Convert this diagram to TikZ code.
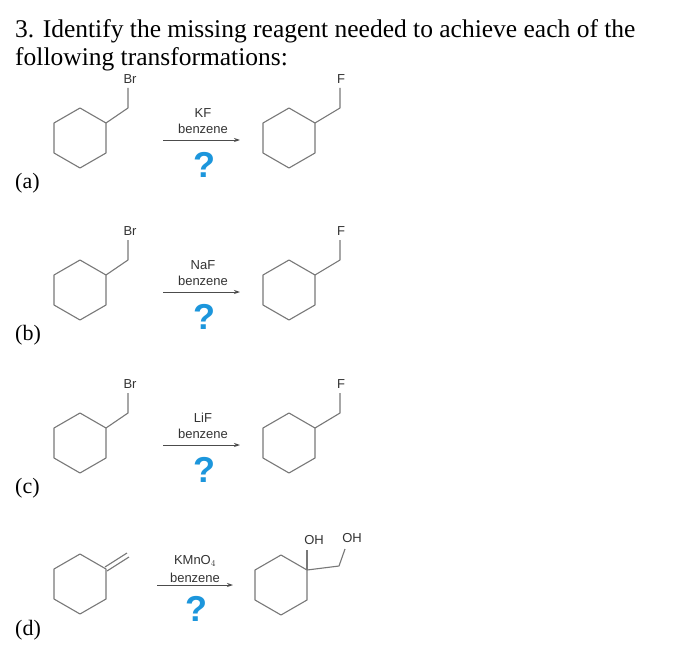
\documentclass[tikz,border=0pt]{standalone}
\usepackage{fontspec}
\usetikzlibrary{arrows.meta}
\setmainfont{Liberation Serif}
\newfontfamily\lsans{Liberation Sans}
\definecolor{qblue}{RGB}{28,150,220}
\definecolor{bond}{RGB}{120,120,120}
\begin{document}
\begin{tikzpicture}[x=1pt,y=-1pt,
  bnd/.style={draw=bond,line width=1.1pt,line join=round},
  lab/.style={font=\lsans\fontsize{13}{13}\selectfont,text=black!80,inner sep=0pt},
  qm/.style={font=\lsans\bfseries\fontsize{36}{36}\selectfont,text=qblue,inner sep=0pt},
  arr/.style={draw=black!70,line width=0.9pt,-{Stealth[length=6pt,width=4pt]}},
  ttl/.style={font=\fontsize{25.5}{25.5}\selectfont,anchor=base west,inner sep=0pt},
  plab/.style={font=\fontsize{22}{22}\selectfont,anchor=base west,inner sep=0pt}]
\useasboundingbox[fill=white] (0,0) rectangle (700,663);
\node[ttl] (t1) at (15,38) {3. Identify the missing reagent needed to achieve each of the};
\node[ttl] (t2) at (15,66) {following transformations:};
\newcommand{\hexa}[2]{\draw[bnd] (#1+26,#2-15) -- (#1,#2-30) -- (#1-26,#2-15) -- (#1-26,#2+15) -- (#1,#2+30) -- (#1+26,#2+15) -- cycle;}
% panels a-c
\foreach \y/\X/\R/\L/\B in {138/KF/a/(a)/0, 290/NaF/b/(b)/0, 443/LiF/c/(c)/0}{
  \hexa{80}{\y}
  \draw[bnd] (106,\y-15) -- (128,\y-30) -- (128,\y-50);
  \node[lab] (br\R) at (130,\y-59) {Br};
  \hexa{289}{\y}
  \draw[bnd] (315,\y-15) -- (340,\y-30) -- (340,\y-50);
  \node[lab] (f\R) at (341,\y-59) {F};
  \coordinate (s\R) at (163,\y+2);
  \coordinate (e\R) at (240,\y+2);
  \draw[arr] (s\R) -- (e\R);
  \node[lab] (r\R) at (203,\y-25) {\X};
  \node[lab] (bz\R) at (203,\y-9) {benzene};
  \node[qm] (q\R) at (204,\y+27) {?};
  \node[plab] (p\R) at (15,\y+50) {\L};
}
% panel d
\hexa{80}{584}
\draw[bnd] (105,567) -- (127,553);
\draw[bnd] (107,571) -- (129,557);
\hexa{281}{585}
\draw[bnd] (307,570) -- (307,550);
\draw[bnd] (307,570) -- (339,566) -- (345,549);
\node[lab] (oh1) at (314,540) {OH};
\node[lab] (oh2) at (352,538) {OH};
\coordinate (sd) at (157,585);
\coordinate (ed) at (233,585);
\draw[arr] (sd) -- (ed);
\node[lab] (rd) at (195,561) {KMnO$_4$};
\node[lab] (bzd) at (195,578) {benzene};
\node[qm] (qd) at (196,609) {?};
\node[plab] (pd) at (15,635) {(d)};
\end{tikzpicture}
\end{document}
